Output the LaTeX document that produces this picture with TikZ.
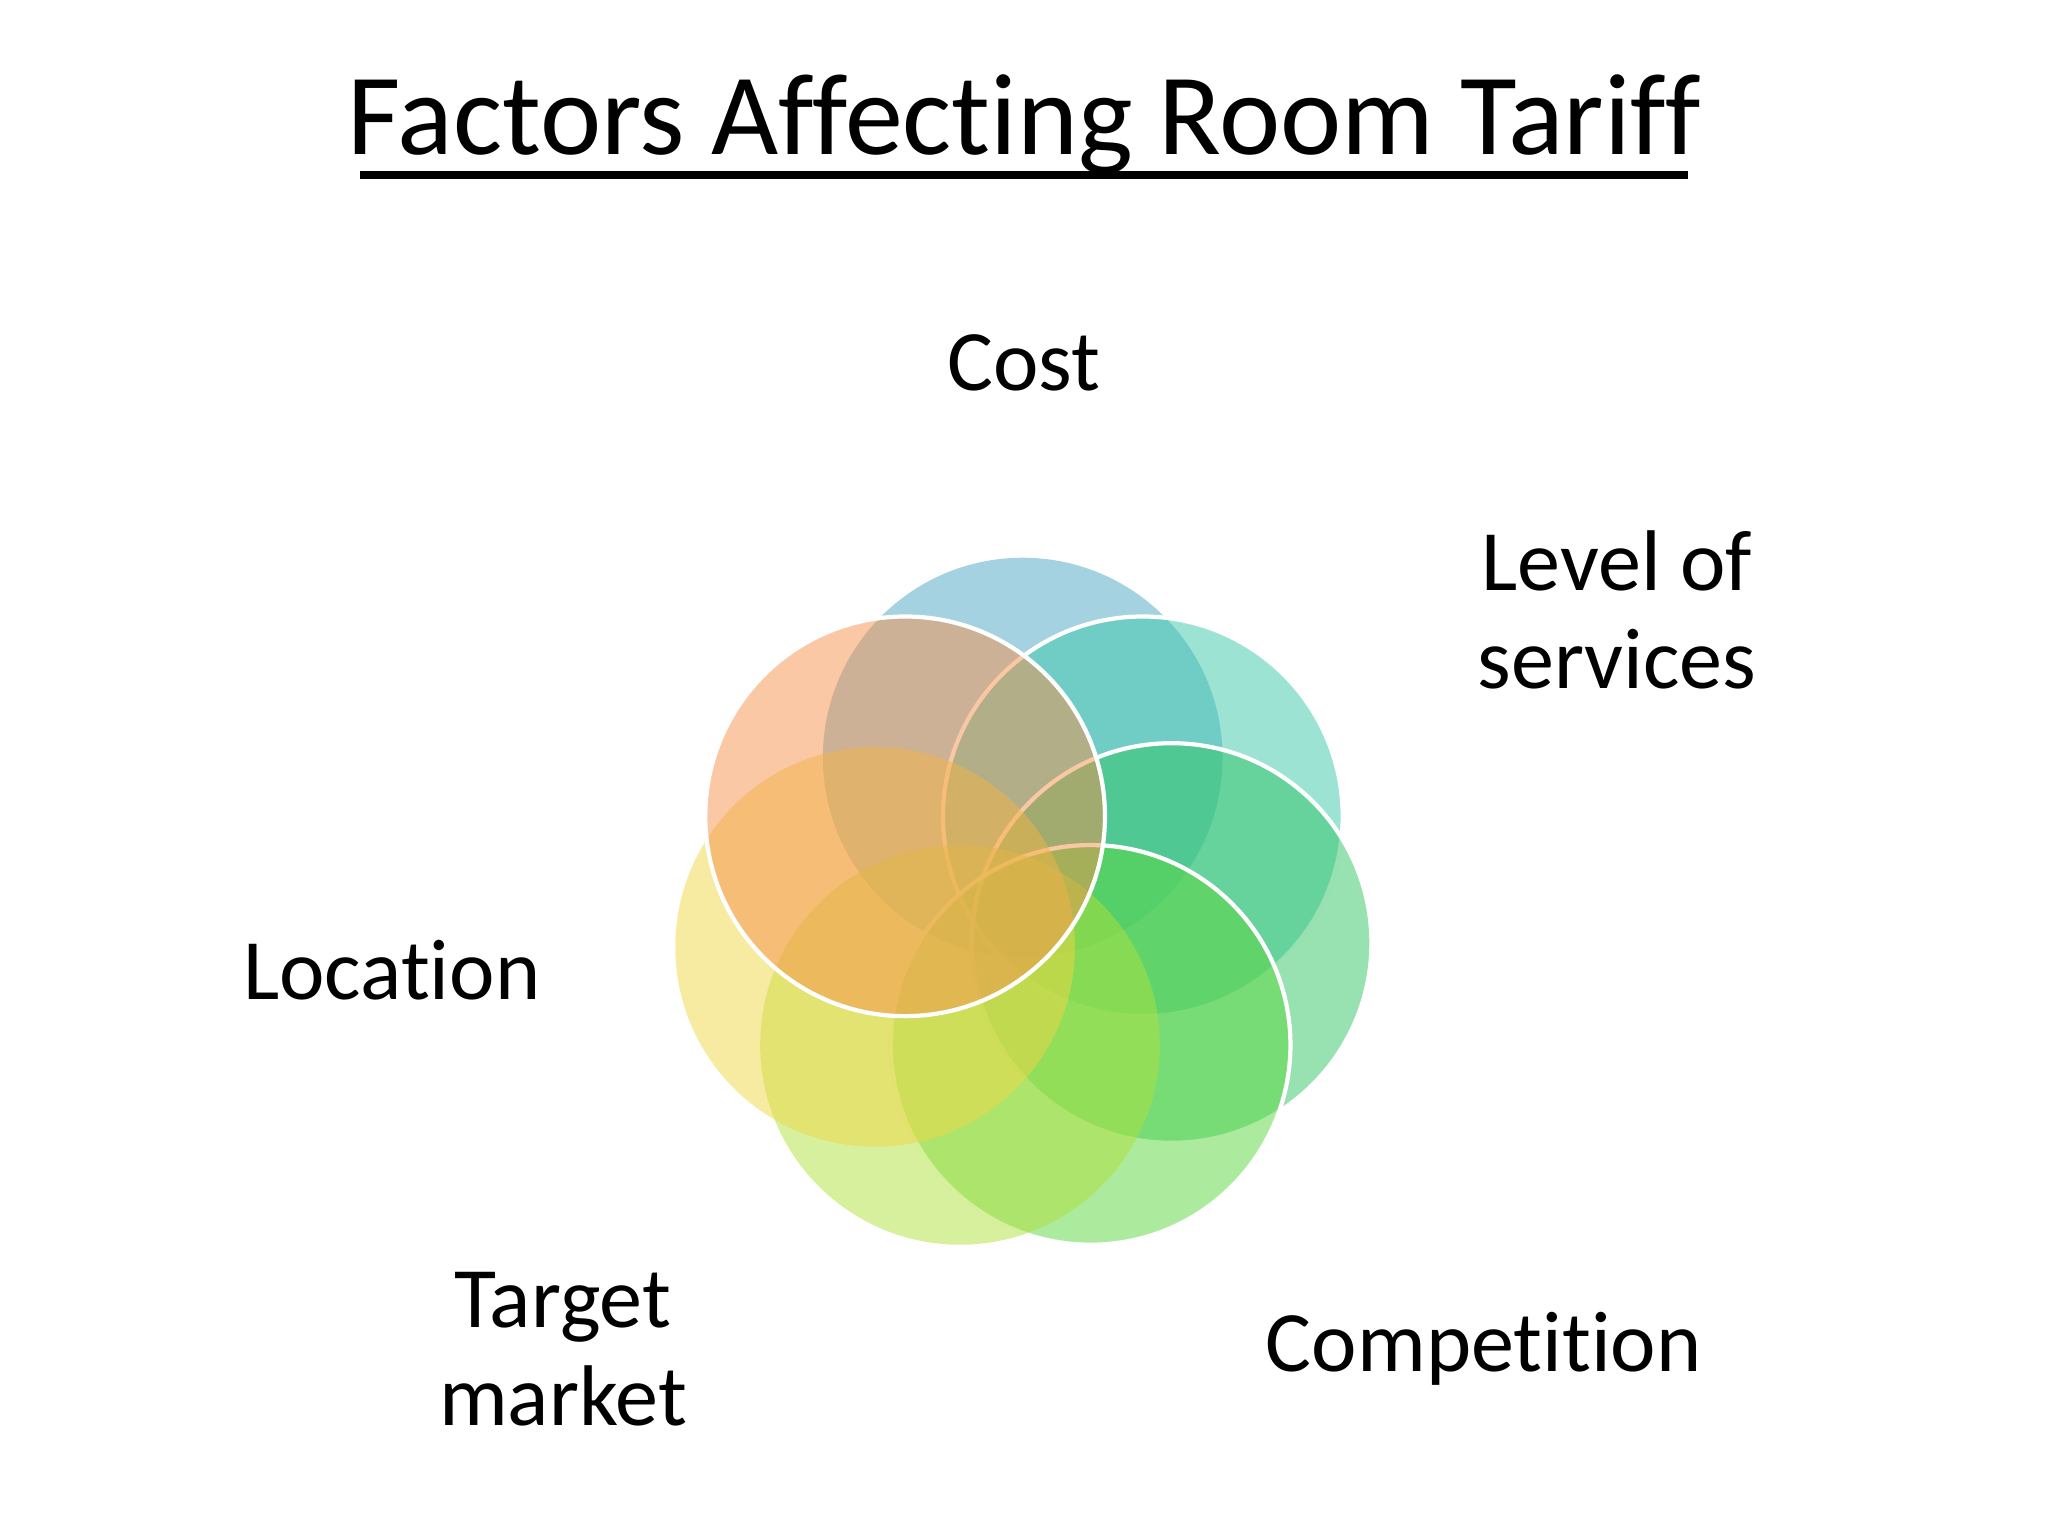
\documentclass[tikz,border=0pt]{standalone}
\usepackage{fontspec}
\setmainfont[Ligatures=NoCommon]{Carlito}
\begin{document}
\begin{tikzpicture}[x=0.01306cm,y=-0.01306cm,
  circ/.style={fill opacity=0.5,draw=none},
  rim/.style={draw=white,line width=1.2pt},
  lab/.style={font=\fontsize{24.5}{28}\selectfont,align=center}]
\useasboundingbox (0,0) rectangle (1568,1176);
\definecolor{cA}{RGB}{75,165,195}
\definecolor{cB}{RGB}{60,200,170}
\definecolor{cC}{RGB}{50,195,100}
\definecolor{cD}{RGB}{90,215,60}
\definecolor{cE}{RGB}{175,225,60}
\definecolor{cF}{RGB}{240,215,70}
\definecolor{cG}{RGB}{245,145,75}
\node[font=\fontsize{33}{38}\selectfont] (title) at (784,95) {Factors Affecting Room Tariff};
\draw[line width=2pt] (276,134) -- (1292,134);
\fill[circ,cA] (783,580) circle (153);
\fill[circ,cB] (875,625) circle (153);
\draw[rim] (875,625) circle (153);
\fill[circ,cC] (897,722) circle (153);
\draw[rim] (897,722) circle (153);
\fill[circ,cD] (835,800) circle (153);
\draw[rim] (835,800) circle (153);
\fill[circ,cE] (735,800) circle (153);
\fill[circ,cF] (670,725) circle (153);
\fill[circ,cG] (693,625) circle (153);
\draw[rim] (693,625) circle (153);
\node[lab] (cost) at (784,278) {Cost};
\node[lab] (lvl) at (1238,467) {Level of\\services};
\node[lab] (loc) at (300,743) {Location};
\node[lab] (tgt) at (431,1033) {Target\\market};
\node[lab] (comp) at (1136,1033) {Competition};
\end{tikzpicture}
\end{document}
